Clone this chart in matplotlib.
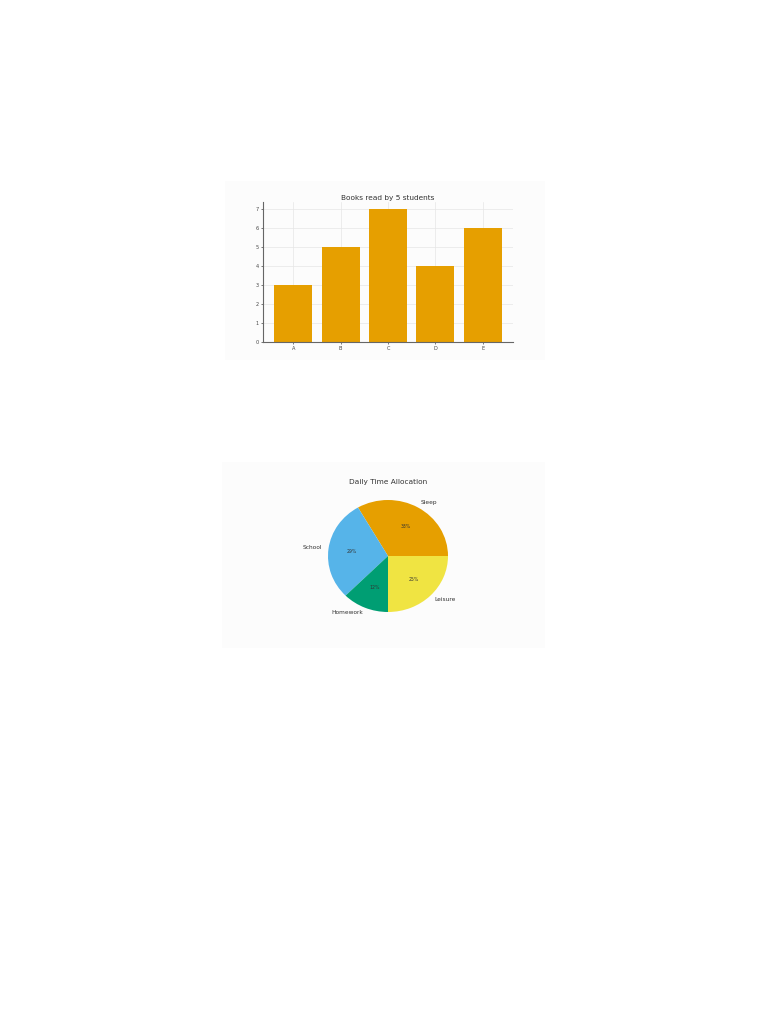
import matplotlib
matplotlib.use("Agg")
import matplotlib.pyplot as plt
from matplotlib.patches import Rectangle

students = ["A", "B", "C", "D", "E"]
books = [3, 5, 7, 4, 6]

activities = ["Sleep", "School", "Homework", "Leisure"]
hours = [8, 7, 3, 6]
pie_colors = ["#E69F00", "#56B4E9", "#009E73", "#F0E442"]

bar_color = "#E69F00"
text_color = "#333333"

fig = plt.figure(figsize=(7.68, 10.24), dpi=100)

# faint panels behind each chart
for x0, y0, x1, y1 in [(225, 181, 545, 360), (222, 462, 545, 648)]:
    fig.patches.append(Rectangle((x0 / 768, 1 - y1 / 1024), (x1 - x0) / 768, (y1 - y0) / 1024,
                                 transform=fig.transFigure, facecolor="#fcfcfc",
                                 edgecolor="none", zorder=-5))

# bar chart
ax = fig.add_axes([263 / 768, 1 - 342 / 1024, 250 / 768, 140 / 1024])
ax.set_facecolor("none")
ax.bar(students, books, width=0.8, color=bar_color, zorder=2)
ax.set_title("Books read by 5 students", fontsize=5.3, color=text_color, pad=1.5)
ax.set_yticks(range(0, 8))
ax.grid(True, color="#e6e6e6", linewidth=0.5, zorder=0)
ax.set_axisbelow(True)
for s in ["top", "right"]:
    ax.spines[s].set_visible(False)
for s in ["left", "bottom"]:
    ax.spines[s].set_color("#666666")
    ax.spines[s].set_linewidth(0.8)
ax.tick_params(labelsize=3.6, colors="#444444", length=1.5, width=0.5, pad=1.5)

# pie chart
ax2 = fig.add_axes([313 / 768, 1 - 626 / 1024, 150 / 768, 140 / 1024])
ax2.pie(hours, labels=activities, colors=pie_colors, autopct="%1.0f%%", startangle=0,
        textprops={"fontsize": 4.2, "color": text_color})
for t in ax2.texts:
    if t.get_text().endswith("%"):
        t.set_fontsize(3.3)
ax2.set_aspect("auto")
ax2.set_xlim(-1.25, 1.25)
ax2.set_ylim(-1.25, 1.25)
ax2.set_title("Daily Time Allocation", fontsize=5.3, color=text_color, pad=1.5)

fig.savefig("out.png", dpi=100, facecolor="white")
